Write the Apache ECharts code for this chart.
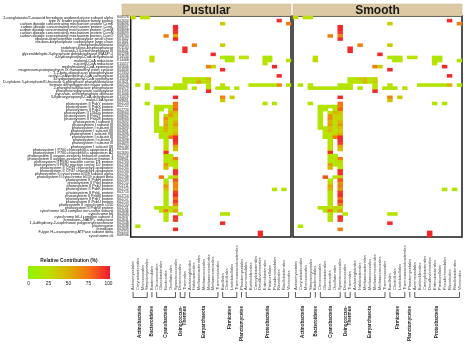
<!DOCTYPE html>
<html>
<head>
<meta charset="utf-8">
<script src="https://cdn.jsdelivr.net/npm/echarts@6/dist/echarts.min.js"></script>
<style>
  html, body { margin:0; padding:0; background:#fff; }
  #main { width:474px; height:353px; }
</style>
</head>
<body>
<div id="main"></div>
<script>
// ---- data ----
const habitats = ['Pustular', 'Smooth'];

const orders = [
  'Actinomycetales','Corynebacteriales','Micrococcales','Streptomycetales',
  'Bacteroidales',
  'Chroococcales','Gloeobacterales','Nostocales','Oscillatoriales','Synechococcales',
  'Deinococcales','Thermales',
  'Archaeoglobales','Halobacteriales','Methanobacteriales','Methanococcales','Methanomicrobiales','Methanosarcinales','Thermococcales',
  'Bacillales','Clostridiales','Lactobacillales','Thermoanaerobacterales',
  'Planctomycetales',
  'Aeromonadales','Burkholderiales','Campylobacterales','Desulfovibrionales','Enterobacterales',
  'Pasteurellales','Pseudomonadales','Rhizobiales','Rhodobacterales','Vibrionales'
];

const orderPhylum = [
  'Actinobacteria','Actinobacteria','Actinobacteria','Actinobacteria',
  'Bacteroidetes',
  'Cyanobacteria','Cyanobacteria','Cyanobacteria','Cyanobacteria','Cyanobacteria',
  'Deinococcus-\nThermus','Deinococcus-\nThermus',
  'Euryarchaeota','Euryarchaeota','Euryarchaeota','Euryarchaeota','Euryarchaeota','Euryarchaeota','Euryarchaeota',
  'Firmicutes','Firmicutes','Firmicutes','Firmicutes',
  'Planctomycetes',
  'Proteobacteria','Proteobacteria','Proteobacteria','Proteobacteria','Proteobacteria',
  'Proteobacteria','Proteobacteria','Proteobacteria','Proteobacteria','Proteobacteria'
];

const genes = [
  '2-oxoglutarate/2-oxoacid ferredoxin oxidoreductase subunit alpha',
  'type IV leader peptidase family protein',
  'carbon dioxide concentrating mechanism protein CcmK',
  'carbon dioxide concentrating mechanism protein CcmL',
  'carbon dioxide concentrating mechanism protein CcmM',
  'carbon dioxide concentrating mechanism protein CcmN',
  'carbon dioxide concentrating mechanism protein CcmO',
  'ribulose-bisphosphate carboxylase small chain',
  'ribulose-bisphosphate carboxylase large chain',
  'phosphoribulokinase',
  'sedoheptulose-bisphosphatase',
  'fructose-1,6-bisphosphatase III',
  'glyceraldehyde-3-phosphate dehydrogenase (NADP+)',
  '4-hydroxybutyryl-CoA dehydratase',
  'malonyl-CoA reductase',
  'succinyl-CoA reductase',
  'methylmalonyl-CoA epimerase',
  'magnesium-protoporphyrin IX monomethyl ester cyclase',
  '1,2-beta-oligoglucan phosphorylase',
  'acetyl-CoA/propionyl-CoA carboxylase',
  '3-hydroxypropionyl-CoA synthetase',
  'D-xylulose 5-phosphate/D-fructose 6-phosphate phosphoketolase',
  'formate dehydrogenase major subunit',
  '2-phosphosulfolactate phosphatase',
  'phosphoenolpyruvate carboxylase',
  'pyruvate, orthophosphate dikinase',
  '3-hydroxypropionyl-CoA dehydratase',
  'malyl-CoA lyase',
  'photosystem II PsbY protein',
  'photosystem II PsbX protein',
  'photosystem II PsbZ protein',
  'photosystem II 13kDa protein',
  'photosystem II Psb27 protein',
  'photosystem II Psb28 protein',
  'photosystem I subunit II',
  'photosystem I subunit III',
  'photosystem I subunit IV',
  'photosystem I subunit VII',
  'photosystem I subunit VIII',
  'photosystem I subunit IX',
  'photosystem I subunit X',
  'photosystem I subunit XI',
  'photosystem I subunit XII',
  'photosystem I P700 chlorophyll a apoprotein A1',
  'photosystem I P700 chlorophyll a apoprotein A2',
  'photosystem II oxygen-evolving enhancer protein 1',
  'photosystem II oxygen-evolving enhancer protein 3',
  'photosystem II P680 reaction center D1 protein',
  'photosystem II P680 reaction center D2 protein',
  'photosystem II CP43 chlorophyll apoprotein',
  'photosystem II CP47 chlorophyll apoprotein',
  'photosystem II cytochrome b559 subunit alpha',
  'photosystem II cytochrome b559 subunit beta',
  'photosystem II PsbH protein',
  'photosystem II PsbI protein',
  'photosystem II PsbJ protein',
  'photosystem II PsbK protein',
  'photosystem II PsbL protein',
  'photosystem II PsbM protein',
  'photosystem II PsbT protein',
  'photosystem II PsbU protein',
  'photosystem II cytochrome c550',
  'photosystem II PsbW protein',
  'cytochrome b6-f complex iron-sulfur subunit',
  'cytochrome b6',
  'cytochrome b6-f complex subunit 4',
  'ferredoxin--NADP+ reductase',
  '1,4-dihydroxy-2-naphthoate polyprenyltransferase',
  'plastocyanin',
  'ferredoxin',
  'F-type H+-transporting ATPase subunit delta',
  'cytochrome c6'
];

const koIds = [
  'K00174','K02654','K08696','K08697','K08698','K08699','K08700','K01602','K01601','K00855',
  'K01100','K04041','K05298','K14534','K14468','K15017','K05606','K04034','K21350','K15036',
  'K15018','K01621','K00123','K05979','K01595','K01006','K15019','K08691','K02723','K02722',
  'K02724','K08904','K08902','K08903','K02692','K02694','K02693','K02691','K02696','K02697',
  'K02698','K02699','K02700','K02689','K02690','K02716','K08901','K02703','K02706','K02705',
  'K02704','K02707','K02708','K02709','K02710','K02711','K02712','K02713','K02714','K02717',
  'K02719','K02720','K02721','K02636','K02635','K02637','K02641','K02548','K02638','K02639',
  'K02113','K08906'
];

// [order index, gene index, relative contribution %]
const pustularCells = [
  [0,0,30],[2,0,25],[3,0,25],
  [31,1,95],
  [19,2,35],[33,2,70],
  [9,3,95],[9,4,95],[9,5,92],[9,6,50],[7,6,70],[9,7,95],
  [13,9,70],[19,9,35],
  [11,10,95],[11,11,95],
  [17,12,95],
  [4,13,25],[19,13,20],[20,13,15],[21,13,20],[23,13,20],[24,13,25],[28,13,20],[29,13,15],
  [4,14,30],[20,14,15],[21,14,20],[28,14,20],[29,14,20],[33,14,20],
  [28,15,25],
  [16,16,70],[17,16,35],[30,16,95],
  [19,17,95],
  [31,19,95],
  [11,20,20],[12,20,20],[13,20,25],[14,20,30],[15,20,20],[16,20,40],
  [11,21,20],[12,21,25],[13,21,20],[14,21,55],[15,21,20],[16,21,35],
  [1,22,20],[3,22,20],[9,22,20],[10,22,20],[11,22,25],[16,22,20],[19,22,25],[25,22,20],[26,22,20],
  [27,22,20],[28,22,20],[29,22,20],[30,22,20],[31,22,65],[33,22,20],
  [3,23,20],[5,23,20],[6,23,20],[7,23,20],[8,23,20],[9,23,20],[10,23,20],[11,23,20],[13,23,20],
  [16,23,25],[18,23,20],[19,23,20],[20,23,20],[22,23,20],
  [16,24,95],
  [9,26,95],[19,26,70],[21,26,35],
  [19,27,40],
  [3,28,20],[9,28,75],[28,28,20],[30,28,20],
  [5,29,20],[6,29,20],[7,29,20],[8,29,20],[9,29,70],
  [5,30,20],[6,30,20],[8,30,20],[9,30,80],
  [5,31,20],[8,31,50],[9,31,40],
  [5,32,20],[7,32,30],[8,32,55],[9,32,35],
  [5,33,20],[7,33,65],[8,33,30],[9,33,30],
  [5,34,20],[7,34,50],[8,34,25],[9,34,45],
  [5,35,20],[7,35,55],[8,35,20],[9,35,60],
  [5,36,20],[6,36,20],[7,36,50],[8,36,30],[9,36,40],
  [5,37,20],[6,37,20],[7,37,45],[8,37,25],[9,37,35],
  [6,38,20],[7,38,25],[8,38,30],[9,38,50],
  [6,39,20],[7,39,20],[8,39,70],[9,39,95],
  [7,40,20],[9,40,95],
  [7,41,20],[9,41,90],
  [7,42,25],[9,42,55],
  [7,43,30],[9,43,40],
  [7,44,95],
  [7,45,20],[8,45,20],
  [7,46,20],[8,46,20],[9,46,70],
  [7,47,20],[8,47,20],[9,47,30],
  [7,48,60],[8,48,20],[9,48,25],
  [7,49,45],[9,49,20],
  [9,50,95],[9,51,95],
  [6,52,75],[8,52,20],[9,52,30],
  [7,53,20],[9,53,85],
  [7,54,30],[9,54,65],
  [7,55,60],[9,55,70],
  [7,56,45],[9,56,60],[30,56,20],[32,56,20],
  [7,57,20],[9,57,90],
  [7,58,20],[9,58,95],
  [7,59,20],[9,59,75],
  [7,60,20],[9,60,90],
  [7,61,20],[9,61,70],
  [5,62,20],[6,62,20],[7,62,25],[8,62,30],[9,62,25],
  [6,63,20],[7,63,70],[8,63,20],[9,63,55],
  [7,64,20],[10,64,20],[19,64,20],[20,64,20],
  [7,65,20],[9,65,95],
  [7,66,20],[9,66,90],
  [19,67,95],
  [1,68,20],
  [9,69,95],
  [27,70,95],[27,71,95]
];

const smoothCells = [
  [0,0,30],[2,0,25],[3,0,25],
  [31,1,95],
  [19,2,35],[33,2,70],
  [9,3,95],[9,4,95],[9,5,92],[9,6,65],[7,6,70],[9,7,95],
  [13,9,70],[19,9,35],
  [11,10,95],[11,11,95],
  [17,12,95],
  [4,13,25],[19,13,20],[20,13,15],[21,13,20],[23,13,20],[24,13,25],[28,13,20],[29,13,15],
  [4,14,30],[20,14,15],[21,14,20],[28,14,20],[29,14,20],[33,14,20],
  [28,15,25],
  [16,16,70],[17,16,35],[30,16,95],
  [19,17,95],
  [31,19,95],
  [11,20,20],[12,20,20],[13,20,35],[14,20,40],[15,20,20],[16,20,30],
  [11,21,20],[12,21,25],[13,21,20],[14,21,45],[15,21,20],[16,21,35],
  [1,22,20],[3,22,20],[9,22,20],[10,22,20],[11,22,25],[16,22,20],[19,22,25],[25,22,20],[26,22,20],
  [27,22,20],[28,22,20],[29,22,20],[30,22,20],[31,22,50],[33,22,20],
  [3,23,20],[4,23,20],[5,23,20],[6,23,20],[7,23,20],[8,23,20],[9,23,20],[10,23,20],[11,23,20],[13,23,20],
  [16,23,25],[18,23,20],[19,23,20],[20,23,20],[22,23,20],
  [16,24,95],
  [9,26,95],[19,26,70],[21,26,35],
  [19,27,40],
  [3,28,20],[9,28,75],[28,28,20],[30,28,20],
  [5,29,20],[6,29,20],[7,29,20],[8,29,20],[9,29,70],
  [5,30,20],[6,30,20],[8,30,20],[9,30,80],
  [5,31,20],[7,31,20],[8,31,50],[9,31,40],
  [5,32,20],[7,32,60],[8,32,30],[9,32,35],
  [5,33,20],[7,33,65],[8,33,30],[9,33,30],
  [5,34,20],[7,34,50],[8,34,25],[9,34,45],
  [5,35,20],[7,35,55],[8,35,20],[9,35,60],
  [5,36,20],[6,36,20],[7,36,40],[8,36,30],[9,36,40],
  [6,37,20],[7,37,45],[8,37,25],[9,37,35],
  [6,38,20],[7,38,25],[8,38,30],[9,38,50],
  [6,39,20],[7,39,20],[8,39,70],[9,39,95],
  [7,40,20],[9,40,95],
  [7,41,20],[9,41,90],
  [7,42,25],[9,42,55],
  [7,43,30],[9,43,40],
  [7,44,95],
  [7,45,20],[8,45,20],
  [7,46,20],[8,46,20],[9,46,70],
  [7,47,20],[8,47,20],[9,47,30],
  [7,48,60],[8,48,20],[9,48,25],
  [7,49,45],[9,49,20],
  [9,50,95],[9,51,95],
  [6,52,85],[8,52,20],[9,52,30],
  [7,53,20],[9,53,85],
  [7,54,30],[9,54,65],
  [7,55,55],[9,55,70],
  [7,56,45],[9,56,60],[30,56,20],[32,56,20],
  [7,57,20],[9,57,90],
  [7,58,20],[9,58,95],
  [7,59,20],[9,59,75],
  [7,60,20],[9,60,90],
  [7,61,20],[9,61,70],
  [5,62,20],[6,62,20],[7,62,25],[8,62,30],[9,62,25],
  [6,63,20],[7,63,70],[8,63,20],[9,63,55],
  [7,64,20],[10,64,20],[19,64,20],[20,64,20],
  [7,65,20],[9,65,95],
  [7,66,20],[9,66,90],
  [19,67,95],
  [1,68,20],
  [9,69,70],
  [27,70,95],[27,71,95]
];

const legendTicks = [0, 25, 50, 75, 100];

// ---- chart ----
const chart = echarts.init(document.getElementById('main'), null, { renderer:'canvas' });
const PANEL_LEFT = [122, 293], PANEL_W = 169, PANEL_TOP = 16, PANEL_H = 221;
const colors = ['#8cf500', '#bde000', '#ddb000', '#f87214', '#f01830'];
const ink = '#1a1a1a';

const xAxes = PANEL_LEFT.map((l, i) => ({
  type:'category', gridIndex:i, data:orders, position:'bottom',
  axisLine:{show:false}, axisTick:{show:false}, splitLine:{show:false},
  axisLabel:{ interval:0, rotate:90, align:'left', margin:53, fontSize:4, color:'#444',
    fontFamily:'Liberation Sans' }
}));

const yAxes = PANEL_LEFT.map((l, i) => ({
  type:'category', gridIndex:i, data:genes, inverse:true,
  axisLine:{show:false}, axisTick:{show:false}, splitLine:{show:false},
  axisLabel: i === 0 ? {
    interval:0, margin:2, fontFamily:'Liberation Sans',
    formatter:(v, idx) => '{n|' + v + '} {k|' + koIds[idx] + '}',
    rich:{ n:{fontSize:3.8, color:'#111'}, k:{fontSize:3.4, color:'#222', width:12} }
  } : {show:false}
}));

chart.setOption({
  animation:false,
  backgroundColor:'#fff',
  grid: PANEL_LEFT.map(l => ({ left:l, top:PANEL_TOP, width:PANEL_W, height:PANEL_H,
    show:true, borderColor:ink, borderWidth:1.5, backgroundColor:'#fff', containLabel:false })),
  xAxis: xAxes,
  yAxis: yAxes,
  visualMap: {
    type:'continuous', min:0, max:100, seriesIndex:[0,1], show:false,
    inRange:{ color:colors }
  },
  series: [pustularCells, smoothCells].map((cells, i) => ({
    type:'heatmap', name:habitats[i], xAxisIndex:i, yAxisIndex:i, data:cells,
    itemStyle:{ borderWidth:0 }, emphasis:{ disabled:true }
  }))
});

// facet strips, phylum brackets, colour key
function phylumSpans(){
  const spans = [];
  orderPhylum.forEach((p, i) => {
    const last = spans[spans.length - 1];
    if (last && last.name === p) last.end = i; else spans.push({ name:p, start:i, end:i });
  });
  return spans;
}

const g = [];
habitats.forEach((h, i) => {
  g.push({ type:'rect', shape:{ x:PANEL_LEFT[i], y:4, width:PANEL_W, height:12 },
    style:{ fill:'#dccaa5', stroke:'#c9b48c', lineWidth:0.5 } });
  g.push({ type:'text', x:PANEL_LEFT[i] + PANEL_W / 2, y:10.5,
    style:{ text:h, fill:ink, font:'bold 12px "Liberation Sans Narrow", "Liberation Sans", sans-serif',
      align:'center', verticalAlign:'middle' } });
  phylumSpans().forEach(s => {
    const x0 = chart.convertToPixel({ xAxisIndex:i }, orders[s.start]);
    const x1 = chart.convertToPixel({ xAxisIndex:i }, orders[s.end]);
    const pts = s.start === s.end ? [[x0, 292], [x0, 297.5]] : [[x0, 292], [x0, 297.5], [x1, 297.5], [x1, 292]];
    g.push({ type:'polyline', shape:{ points:pts }, style:{ stroke:'#333', lineWidth:0.8, fill:null } });
    g.push({ type:'text', x:(x0 + x1) / 2, y:306, rotation:Math.PI / 2,
      style:{ text:s.name, fill:'#222', font:'bold 4.6px "Liberation Sans", sans-serif',
        align:'right', verticalAlign:'middle', lineHeight:4.6 } });
  });
});

const KEY = { x:28, y:266, w:82, h:13 };
g.push({ type:'rect', shape:{ x:KEY.x, y:KEY.y, width:KEY.w, height:KEY.h },
  style:{ fill:new echarts.graphic.LinearGradient(0, 0, 1, 0,
    colors.map((c, k) => ({ offset:k / (colors.length - 1), color:c }))) } });
g.push({ type:'text', x:KEY.x + KEY.w / 2, y:260.5,
  style:{ text:'Relative Contribution (%)', fill:ink, font:'bold 4.8px "Liberation Sans", sans-serif',
    align:'center', verticalAlign:'middle' } });
legendTicks.forEach(t => {
  g.push({ type:'text', x:KEY.x + 0.5 + t / 100 * (KEY.w - 2), y:284,
    style:{ text:String(t), fill:'#222', font:'4.8px "Liberation Sans", sans-serif',
      align:'center', verticalAlign:'middle' } });
});
chart.setOption({ graphic:g });
</script>
</body>
</html>
